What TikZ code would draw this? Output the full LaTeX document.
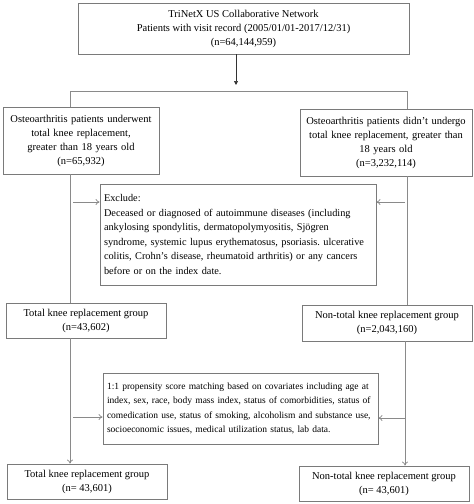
\documentclass[tikz,border=0pt]{standalone}
\usepackage{fontspec}
\setmainfont{Liberation Serif}
\usetikzlibrary{arrows.meta}
\definecolor{boxgray}{HTML}{7A7A7A}
\definecolor{linegray}{HTML}{8A8A8A}
\frenchspacing
\begin{document}
\begin{tikzpicture}[x=1pt,y=-1pt,
  box/.style={draw=boxgray,line width=0.8pt,align=center,inner sep=2pt,font=\fontsize{10.5}{14}\selectfont},
  lbox/.style={draw=boxgray,line width=0.8pt,align=left,inner xsep=4pt,inner ysep=5pt,font=\fontsize{10.3}{14.5}\selectfont},
  conn/.style={draw=linegray,line width=0.8pt},
  sarrow/.style={draw=linegray,line width=0.7pt,-{To[length=4pt,width=6pt]}},
  barrow/.style={draw=black!80,line width=0.7pt,-{Triangle[length=4pt,width=4pt]}}]
\useasboundingbox (0,0) rectangle (474,504);
\node[box,minimum width=331pt,minimum height=51pt] (top) at (243.5,28.5) {TriNetX US Collaborative Network\\Patients with visit record (2005/01/01-2017/12/31)\\(n=64,144,959)};
\node[box,minimum width=156pt,minimum height=67pt,text width=150pt] (l1) at (81,140.5) {Osteoarthritis patients underwent\\total knee replacement,\\greater than 18 years old\\(n=65,932)};
\node[box,minimum width=172pt,minimum height=67pt,text width=166pt] (r1) at (386,142.5) {Osteoarthritis patients didn't undergo\\total knee replacement, greater than\\18 years old\\(n=3,232,114)};
\node[lbox,minimum width=276pt,minimum height=101pt,text width=268pt] (ex) at (238,234.5) {Exclude:\\Deceased or diagnosed of autoimmune diseases (including\\ankylosing spondylitis, dermatopolymyositis, Sjögren\\syndrome, systemic lupus erythematosus, psoriasis. ulcerative\\colitis, Crohn's disease, rheumatoid arthritis) or any cancers\\before or on the index date.};
\node[box,minimum width=160pt,minimum height=35pt] (l2) at (86,320.5) {Total knee replacement group\\(n=43,602)};
\node[box,minimum width=170pt,minimum height=36pt] (r2) at (387,323) {Non-total knee replacement group\\(n=2,043,160)};
\node[lbox,minimum width=275pt,minimum height=71pt,text width=267pt,font=\fontsize{9.5}{14.3}\selectfont] (psm) at (240.5,408.5) {1:1 propensity score matching based on covariates including age at\\index, sex, race, body mass index, status of comorbidities, status of\\comedication use, status of smoking, alcoholism and substance use,\\socioeconomic issues, medical utilization status, lab data.};
\node[box,minimum width=160pt,minimum height=35pt] (l3) at (87,481.5) {Total knee replacement group\\(n= 43,601)};
\node[box,minimum width=170pt,minimum height=35pt] (r3) at (384,483.5) {Non-total knee replacement group\\(n= 43,601)};
% connectors
\coordinate (split) at (236,91);
\coordinate (sl) at (70,91);
\coordinate (sr) at (407,91);
\draw[barrow] (top.south -| split) -- (236,85);
\draw[conn] (sl) -- (sr);
\draw[conn] (sl) -- (l1.north -| sl);
\draw[conn] (sr) -- (r1.north -| sr);
\draw[conn] (l1.south -| sl) -- (l2.north -| sl);
\draw[conn] (r1.south -| sr) -- (r2.north -| sr);
\coordinate (la1) at (73,202);
\coordinate (ra1) at (405,202);
\draw[sarrow] (la1) -- (la1 -| ex.west);
\draw[sarrow] (ra1) -- (ra1 -| ex.east);
\coordinate (la2) at (73,417);
\coordinate (ra2) at (405,418);
\draw[sarrow] (la2) -- (la2 -| psm.west);
\draw[sarrow] (ra2) -- (ra2 -| psm.east);
\draw[sarrow] (l2.south -| sl) -- (l3.north -| sl);
\draw[sarrow] (r2.south -| 405,0) -- (r3.north -| 405,0);
\end{tikzpicture}
\end{document}
